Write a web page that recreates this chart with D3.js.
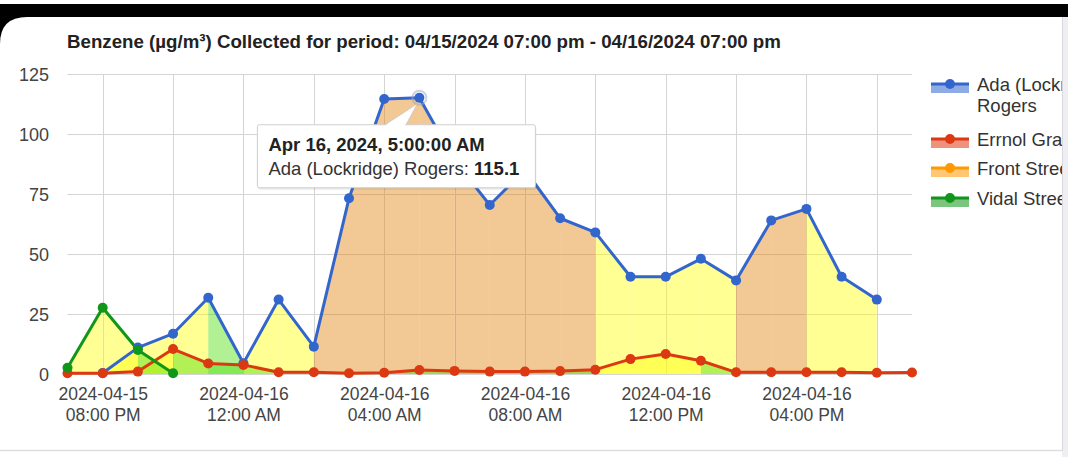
<!doctype html>
<html lang="en">
<head>
<meta charset="utf-8">
<title>Benzene chart</title>
<script src="https://d3js.org/d3.v7.min.js"></script>
<style>
  body { margin: 0; background: #fff; }
  svg { display: block; font-family: Arial, "Liberation Sans", sans-serif; }
</style>
</head>
<body>
<div id="holder"></div>
<script>
  // hourly readings, 7 pm to 7 pm
  const hours = [
    '2024-04-15 19:00', '2024-04-15 20:00', '2024-04-15 21:00', '2024-04-15 22:00',
    '2024-04-15 23:00', '2024-04-16 00:00', '2024-04-16 01:00', '2024-04-16 02:00',
    '2024-04-16 03:00', '2024-04-16 04:00', '2024-04-16 05:00', '2024-04-16 06:00',
    '2024-04-16 07:00', '2024-04-16 08:00', '2024-04-16 09:00', '2024-04-16 10:00',
    '2024-04-16 11:00', '2024-04-16 12:00', '2024-04-16 13:00', '2024-04-16 14:00',
    '2024-04-16 15:00', '2024-04-16 16:00', '2024-04-16 17:00', '2024-04-16 18:00',
    '2024-04-16 19:00'
  ];
  const adaValues = [null, 0.4, 11, 16.8, 31.8, 4.5, 31, 11.4, 73.2, 114.6, 115.1, 89, 70.4,
    85, 64.9, 59, 40.5, 40.5, 48, 39, 64, 68.8, 40.5, 31, null];
  const errnolValues = [0.3, 0.3, 1, 10.4, 4.4, 3.8, 0.7, 0.7, 0.3, 0.5, 1.7, 1.3, 1,
    1, 1.2, 1.8, 6.2, 8.3, 5.5, 0.7, 0.7, 0.7, 0.7, 0.5, 0.6];
  const frontValues = [null, null, null, null, null, null, null, null, null, null, null, null, null,
    null, null, null, null, null, null, null, null, null, null, null, null];
  const vidalValues = [2.6, 27.6, 10, 0.3, null, null, null, null, null, null, null, null, null,
    null, null, null, null, null, null, null, null, null, null, null, null];
  const seriesNames = ['Ada (Lockridge) Rogers', 'Errnol Grant', 'Front Street', 'Vidal Street'];
  const yTicks = [0, 25, 50, 75, 100, 125];
  const tooltipIndex = 10;

  const parse = d3.timeParse('%Y-%m-%d %H:%M');
  const dates = hours.map(parse);
  const series = [
    {name: seriesNames[0], values: adaValues, color: '#3366cc'},
    {name: seriesNames[1], values: errnolValues, color: '#dc3912'},
    {name: seriesNames[2], values: frontValues, color: '#ff9900'},
    {name: seriesNames[3], values: vidalValues, color: '#109618'}
  ];

  // band colours for the filled segments
  const band = d3.scaleThreshold()
    .domain([5, 50])
    .range(['#44dd00', '#ffff00', '#e07b00']);

  const W = 1068, H = 457;
  const x = d3.scaleTime().domain(d3.extent(dates)).range([67.5, 912]);
  const y = d3.scaleLinear().domain([0, 125]).range([374, 74]);

  const svg = d3.select('#holder').append('svg')
    .attr('width', W).attr('height', H);

  // screenshot frame
  svg.append('rect').attr('width', W).attr('height', H).attr('fill', '#fff');
  svg.append('rect').attr('x', 0).attr('y', 4).attr('width', W).attr('height', 50).attr('fill', '#000');
  svg.append('path')
    .attr('d', 'M0,44 Q0,17 27,17 L1062,17 L1062,450 L0,450 Z')
    .attr('fill', '#fff');
  svg.append('rect').attr('x', 1062).attr('y', 17).attr('width', 6).attr('height', 440).attr('fill', '#efeff3');
  svg.append('line').attr('x1', 1062.5).attr('x2', 1062.5).attr('y1', 17).attr('y2', 451)
    .attr('stroke', '#d8d8dc');
  svg.append('line').attr('x1', 0).attr('x2', 1062).attr('y1', 450.5).attr('y2', 450.5)
    .attr('stroke', '#dedede').attr('stroke-width', 1.5);

  svg.append('defs').append('clipPath').attr('id', 'card')
    .append('rect').attr('x', 0).attr('y', 17).attr('width', 1062).attr('height', 433);

  // title
  svg.append('text')
    .attr('x', 67).attr('y', 48)
    .attr('font-size', 18.7).attr('font-weight', 'bold').attr('fill', '#222')
    .text('Benzene (µg/m³) Collected for period: 04/15/2024 07:00 pm - 04/16/2024 07:00 pm');

  // grid
  const grid = svg.append('g');
  grid.selectAll('.hgrid').data(yTicks).enter().append('line')
    .attr('x1', 67.5).attr('x2', 912)
    .attr('y1', d => y(d) + 0.5).attr('y2', d => y(d) + 0.5)
    .attr('stroke', '#d4d4d4');
  grid.selectAll('.vgrid').data(x.ticks(d3.timeHour.every(2))).enter().append('line')
    .attr('x1', d => Math.round(x(d)) + 0.5).attr('x2', d => Math.round(x(d)) + 0.5)
    .attr('y1', 74).attr('y2', 374)
    .attr('stroke', '#d4d4d4');

  // y axis labels
  const yAxis = d3.axisLeft(y).tickValues(yTicks).tickSize(0).tickPadding(0);
  const yg = svg.append('g').attr('transform', 'translate(49,0)').call(yAxis);
  yg.select('.domain').remove();
  yg.selectAll('text').attr('font-size', 18).attr('fill', '#444').attr('font-family', null)
    .attr('dy', '0.36em');

  // x axis labels, two lines
  const fmtDate = d3.timeFormat('%Y-%m-%d');
  const fmtTime = d3.timeFormat('%I:%M %p');
  const xAxis = d3.axisBottom(x).ticks(d3.timeHour.every(4)).tickSize(0).tickFormat('');
  const xg = svg.append('g').attr('transform', 'translate(0,374)').call(xAxis);
  xg.select('.domain').remove();
  xg.selectAll('.tick').each(function(d) {
    const t = d3.select(this).append('text')
      .attr('text-anchor', 'middle').attr('font-size', 17.5).attr('fill', '#444');
    t.append('tspan').attr('x', 0).attr('y', 26).text(fmtDate(d));
    t.append('tspan').attr('x', 0).attr('y', 47).text(fmtTime(d));
  });

  // filled segments, coloured by the value they end on
  const areas = svg.append('g');
  series.forEach(s => {
    for (let i = 1; i < s.values.length; i++) {
      const a = s.values[i - 1], b = s.values[i];
      if (a == null || b == null) continue;
      const pts = [[dates[i - 1], a], [dates[i], b]];
      const area = d3.area().x(p => x(p[0])).y0(y(0)).y1(p => y(p[1]));
      areas.append('path')
        .attr('d', area(pts))
        .attr('fill', band(b))
        .attr('fill-opacity', 0.42);
    }
  });

  // lines
  const line = d3.line()
    .defined(d => d != null)
    .x((d, i) => x(dates[i]))
    .y(d => y(d));
  series.forEach(s => {
    svg.append('path')
      .attr('d', line(s.values))
      .attr('fill', 'none')
      .attr('stroke', s.color)
      .attr('stroke-width', 3)
      .attr('stroke-linejoin', 'round');
  });
  // points
  series.forEach(s => {
    svg.append('g').selectAll('circle')
      .data(s.values.map((v, i) => ({v: v, i: i})).filter(d => d.v != null))
      .enter().append('circle')
      .attr('cx', d => x(dates[d.i]))
      .attr('cy', d => y(d.v))
      .attr('r', 5)
      .attr('fill', s.color);
  });

  // hovered point
  const px = x(dates[tooltipIndex]), py = y(adaValues[tooltipIndex]);
  svg.append('circle').attr('cx', px).attr('cy', py).attr('r', 7)
    .attr('fill', 'none').attr('stroke', '#9aa6c8').attr('stroke-width', 2).attr('opacity', 0.5);

  // tooltip
  const tip = svg.append('g');
  const bx = px - 162, by = py + 27, bw = 278, bh = 63;
  tip.append('rect').attr('x', bx + 1).attr('y', by + 2).attr('width', bw).attr('height', bh)
    .attr('fill', '#000').attr('opacity', 0.08).attr('rx', 2);
  tip.append('path')
    .attr('d', `M${px - 36},${by + 1} L${px - 3},${py + 7} L${px - 14},${by + 1} Z`)
    .attr('fill', '#fff').attr('stroke', '#ccc');
  tip.append('rect').attr('x', bx).attr('y', by).attr('width', bw).attr('height', bh)
    .attr('fill', '#fff').attr('stroke', '#cfcfcf').attr('rx', 2);
  tip.append('path')
    .attr('d', `M${px - 35},${by + 1.5} L${px - 3},${py + 7} L${px - 15},${by + 1.5} Z`)
    .attr('fill', '#fff');
  tip.append('text').attr('x', bx + 11).attr('y', by + 26)
    .attr('font-size', 18.5).attr('font-weight', 'bold').attr('fill', '#222')
    .text(d3.timeFormat('%b %-d, %Y, %-I:%M:%S %p')(dates[tooltipIndex]));
  const t2 = tip.append('text').attr('x', bx + 11).attr('y', by + 50)
    .attr('font-size', 18.5).attr('fill', '#333');
  t2.append('tspan').text(seriesNames[0] + ': ');
  t2.append('tspan').attr('font-weight', 'bold').attr('fill', '#222').text(adaValues[tooltipIndex]);

  // legend (cut off by the card edge, as in the screenshot)
  const legend = svg.append('g').attr('clip-path', 'url(#card)');
  const legendRows = [91, 146, 175, 205];
  series.forEach((s, i) => {
    const base = legendRows[i];
    const g = legend.append('g').attr('transform', `translate(931,${base - 7})`);
    g.append('rect').attr('x', 0).attr('y', 0).attr('width', 38).attr('height', 9)
      .attr('fill', s.color).attr('opacity', 0.55);
    g.append('line').attr('x1', 0).attr('x2', 38).attr('y1', 0).attr('y2', 0)
      .attr('stroke', s.color).attr('stroke-width', 3);
    g.append('circle').attr('cx', 19).attr('cy', 0).attr('r', 5).attr('fill', s.color);
    const words = i === 0 ? ['Ada (Lockridge)', 'Rogers'] : [s.name];
    words.forEach((w, k) => {
      legend.append('text').attr('x', 977).attr('y', base + k * 21)
        .attr('font-size', 18.5).attr('fill', '#333').text(w);
    });
  });
</script>
</body>
</html>
